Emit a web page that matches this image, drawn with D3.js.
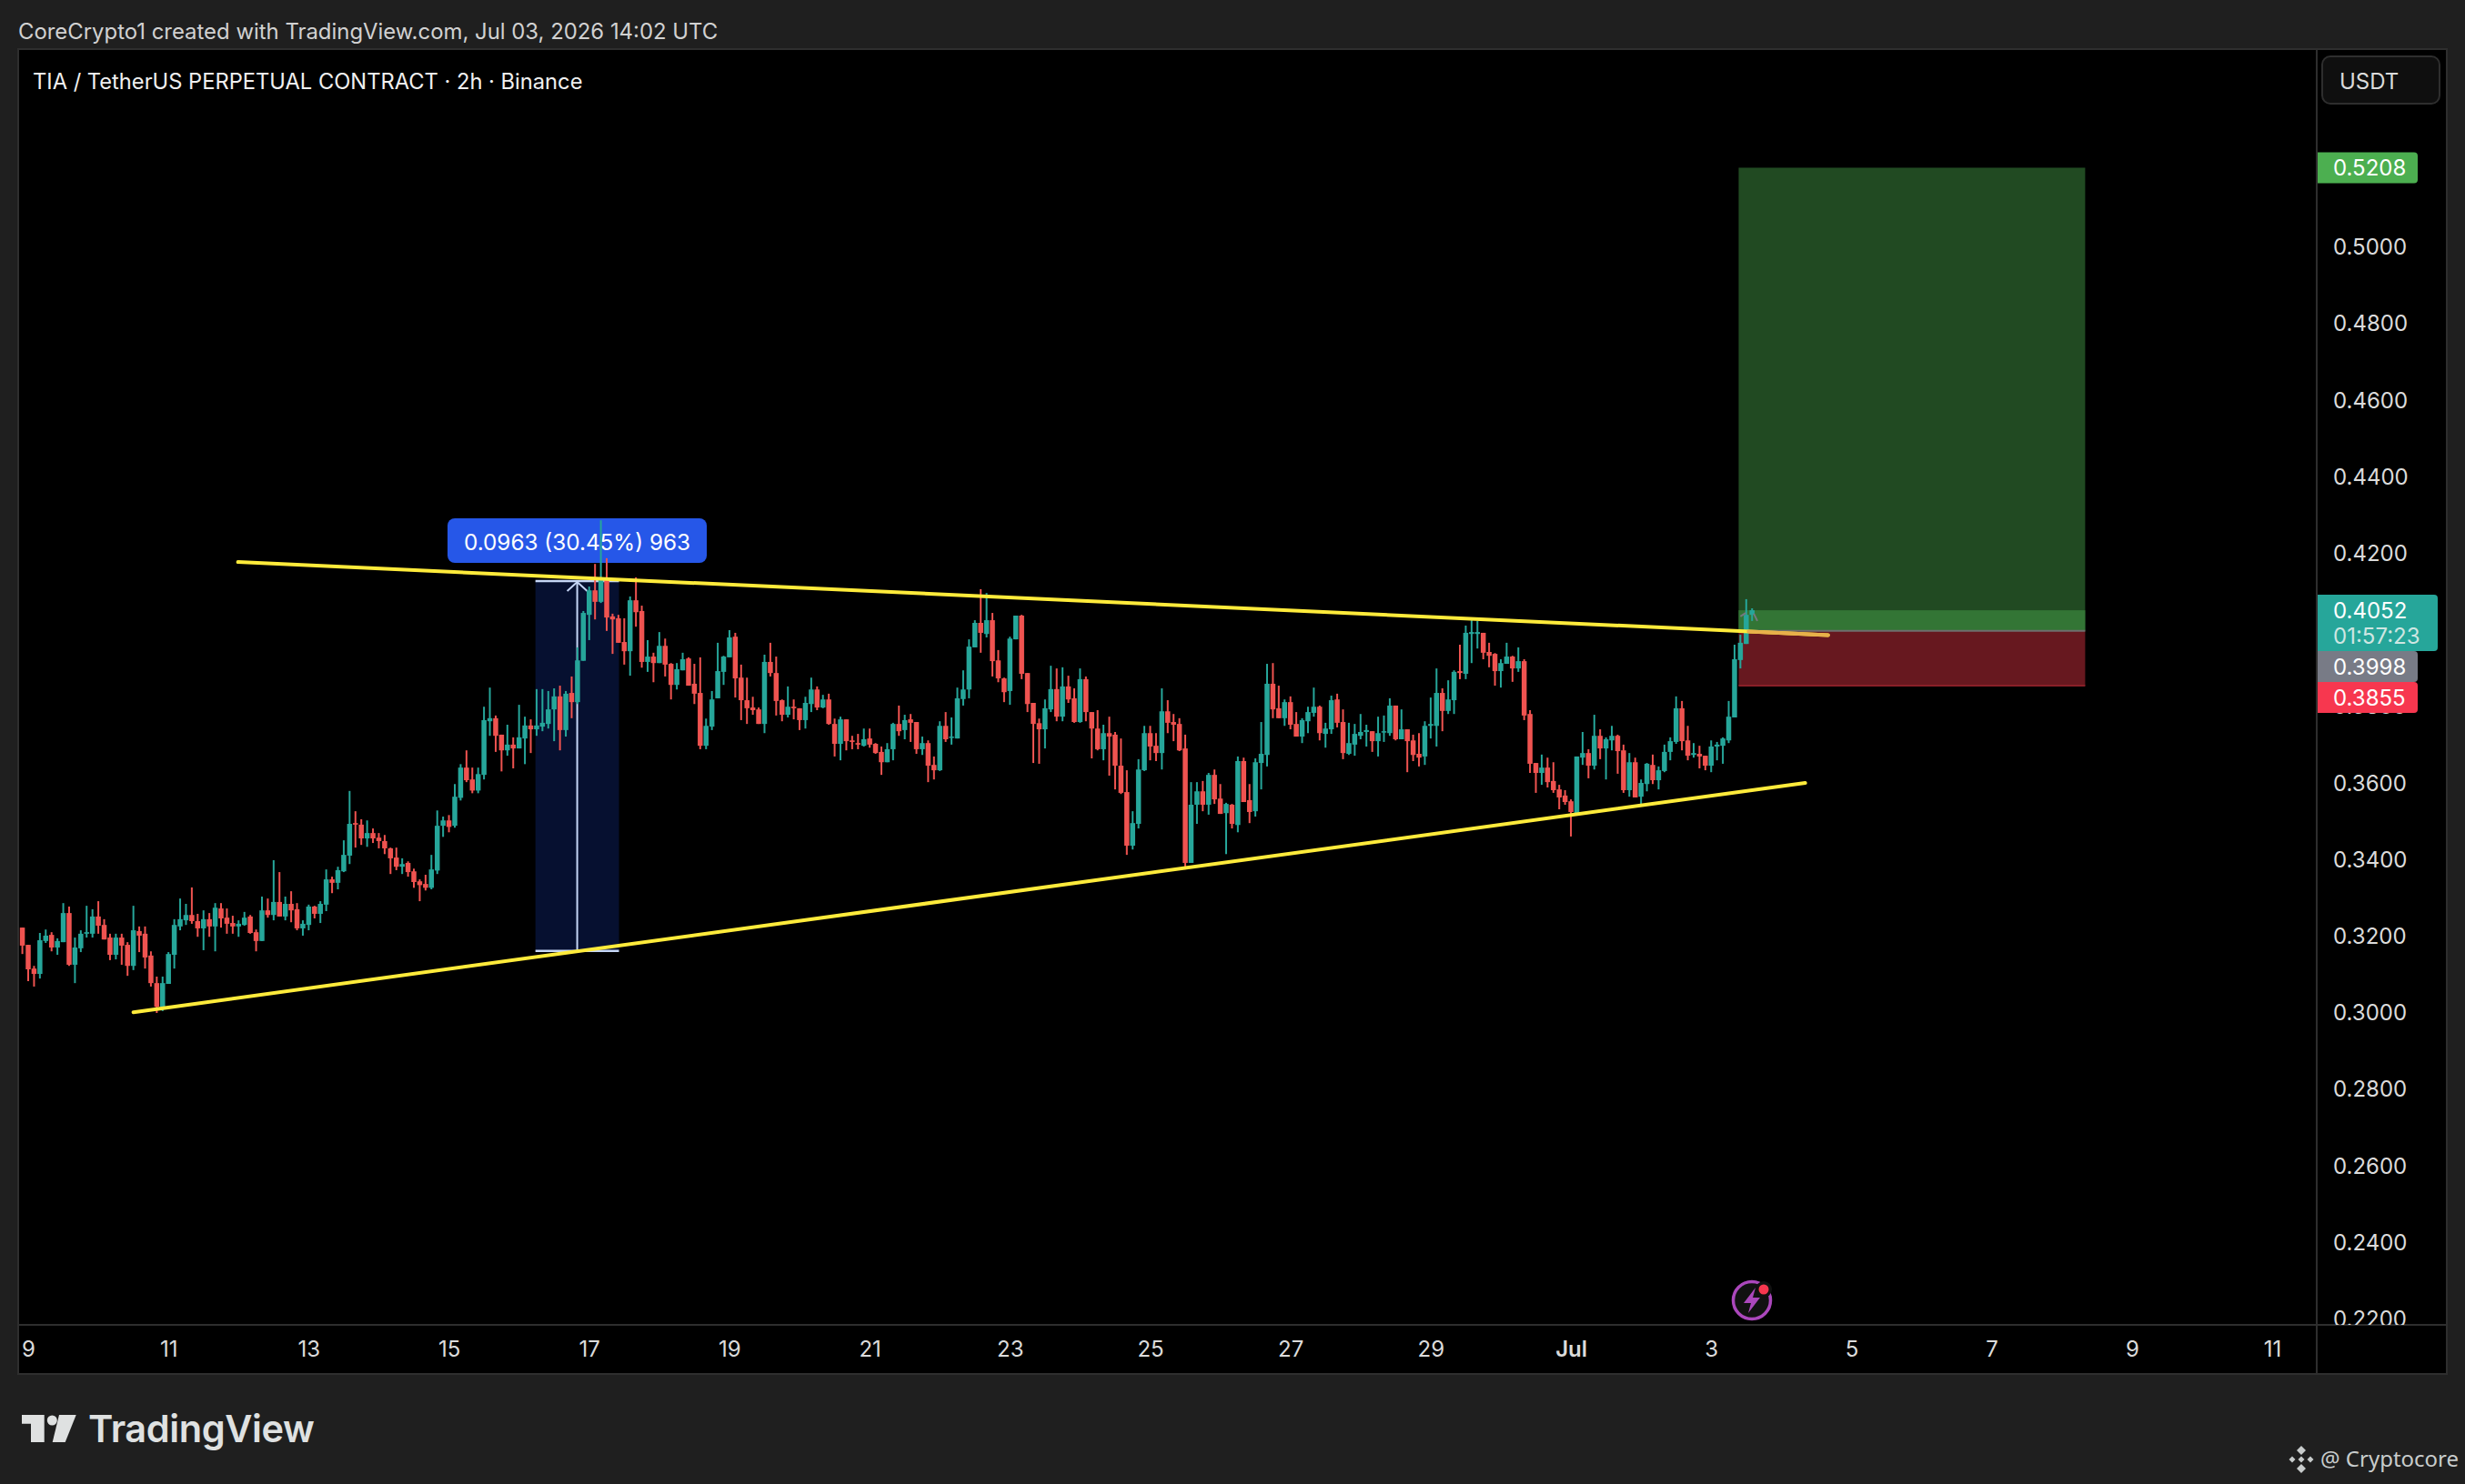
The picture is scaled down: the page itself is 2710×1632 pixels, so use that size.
<!DOCTYPE html>
<html>
<head>
<meta charset="utf-8">
<title>TIA / TetherUS</title>
<script src="https://cdn.jsdelivr.net/npm/d3@7"></script>
<style>
  html, body { margin: 0; padding: 0; background: #1f1f1f; }
  svg { display: block; font-family: Inter, "Noto Sans", sans-serif; }
  .tick-label { fill: #dbdbdb; font-size: 24px; }
</style>
</head>
<body>
<svg id="chart" width="2710" height="1632"></svg>
<script>
const opens = [
  3223,3178,3116,3102,3188,3204,3171,3185,3261,3126, 3169,3207,3207,3252,3230,3197,3152,3197,3178,3123,
  3214,3207,3150,3078,3016,3076,3152,3226,3242,3256, 3240,3221,3245,3226,3273,3249,3235,3226,3230,3252,
  3211,3188,3268,3256,3290,3252,3285,3271,3221,3230, 3278,3259,3283,3349,3340,3370,3411,3496,3492,3456,
  3470,3458,3449,3430,3406,3382,3392,3370,3344,3337, 3327,3372,3489,3503,3489,3562,3641,3610,3581,3622,
  3762,3770,3727,3686,3701,3691,3717,3751,3741,3748, 3755,3793,3827,3739,3836,3812,3920,4040,4104,4074,
  4133,4036,4031,3969,3945,4078,4050,3917,3931,3914, 3959,3912,3857,3895,3926,3860,3836,3698,3748,3822,
  3891,3929,3983,3876,3817,3798,3793,3755,3917,3888, 3817,3779,3800,3796,3765,3807,3845,3798,3819,3755,
  3703,3767,3712,3705,3698,3717,3703,3682,3655,3689, 3755,3739,3767,3760,3689,3705,3648,3634,3750,3720,
  3717,3820,3845,3955,4019,3990,4026,3921,3874,3841, 3976,4038,3888,3810,3757,3741,3793,3846,3774,3853,
  3822,3760,3872,3786,3743,3689,3731,3727,3646,3577, 3437,3494,3634,3731,3698,3679,3788,3760,3755,3691,
  3392,3544,3579,3544,3622,3560,3522,3544,3491,3658, 3556,3527,3653,3674,3860,3796,3770,3812,3755,3722,
  3762,3784,3800,3729,3741,3819,3760,3677,3701,3724, 3734,3736,3710,3733,3731,3803,3715,3741,3712,3677,
  3670,3750,3750,3836,3789,3817,3893,3886,3990,3990, 3993,3943,3938,3893,3912,3931,3900,3919,3781,3653,
  3627,3641,3606,3584,3568,3553,3522,3667,3679,3646, 3724,3691,3712,3724,3686,3582,3655,3565,3598,3648,
  3608,3632,3682,3708,3796,3712,3674,3677,3672,3646, 3696,3698,3712,3772,3922,3964,4040
];
const highs = [
  3223,3178,3123,3209,3218,3211,3195,3287,3278,3197, 3216,3280,3271,3292,3245,3207,3207,3207,3185,3280,
  3226,3226,3161,3095,3095,3159,3245,3299,3285,3328, 3259,3268,3261,3287,3287,3273,3254,3242,3264,3256,
  3218,3304,3299,3399,3368,3304,3318,3287,3242,3283, 3280,3292,3375,3356,3382,3451,3580,3527,3506,3503,
  3482,3470,3465,3432,3432,3404,3396,3377,3349,3361, 3413,3529,3513,3517,3598,3650,3686,3641,3641,3800,
  3850,3777,3727,3753,3720,3805,3774,3767,3846,3846, 3841,3848,3855,3841,3879,3955,4050,4114,4173,4287,
  4188,4043,4040,4031,4088,4138,4064,3974,3941,3995, 3978,3914,3914,3941,3929,3912,3929,3769,3841,3967,
  3933,4000,3993,3910,3876,3826,3798,3936,3967,3931, 3819,3853,3819,3796,3826,3876,3853,3831,3834,3769,
  3774,3767,3724,3729,3743,3743,3705,3696,3705,3758, 3803,3779,3781,3760,3722,3712,3670,3762,3786,3772,
  3850,3895,3976,4026,4107,4097,4045,3948,3876,3983, 4038,4040,3888,3810,3769,3819,3907,3900,3903,3881,
  3848,3900,3879,3786,3791,3753,3774,3734,3717,3634, 3527,3663,3750,3750,3731,3848,3817,3781,3770,3727,
  3603,3603,3606,3627,3636,3598,3549,3546,3670,3667, 3598,3665,3760,3912,3914,3855,3819,3827,3786,3770,
  3800,3850,3803,3758,3829,3834,3793,3758,3755,3781, 3753,3736,3774,3777,3822,3803,3793,3741,3727,3731,
  3762,3824,3900,3848,3869,3895,3962,4012,4032,4024, 3993,3967,3940,3924,3967,3933,3955,3924,3791,3653,
  3675,3667,3655,3596,3582,3558,3670,3734,3689,3779, 3741,3720,3750,3727,3701,3679,3667,3610,3653,3675,
  3644,3701,3720,3827,3815,3750,3705,3698,3672,3712, 3708,3720,3815,3962,3988,4081,4057
];
const lows = [
  3154,3083,3069,3090,3183,3161,3152,3185,3123,3078, 3159,3197,3197,3207,3192,3138,3140,3126,3097,3112,
  3159,3116,3069,3000,3005,3076,3116,3216,3230,3233, 3199,3164,3199,3161,3223,3207,3207,3199,3228,3207,
  3161,3188,3249,3242,3252,3242,3237,3216,3202,3216, 3247,3235,3266,3313,3323,3368,3389,3432,3439,3434,
  3444,3430,3415,3363,3373,3363,3356,3327,3292,3320, 3323,3363,3460,3472,3484,3555,3603,3574,3574,3610,
  3724,3682,3631,3672,3639,3691,3650,3679,3724,3736, 3743,3710,3686,3722,3770,3807,3920,3974,4028,4071,
  3998,3938,3967,3910,3881,4009,3902,3891,3864,3914, 3879,3819,3845,3895,3855,3807,3689,3689,3739,3822,
  3857,3929,3824,3765,3755,3779,3755,3731,3879,3777, 3762,3772,3767,3739,3743,3786,3791,3796,3753,3670,
  3660,3686,3689,3689,3696,3693,3677,3622,3655,3660, 3724,3715,3708,3677,3674,3603,3610,3632,3708,3701,
  3717,3803,3822,3955,3941,3981,3879,3864,3812,3805, 3976,3872,3786,3653,3651,3691,3786,3762,3762,3810,
  3758,3758,3762,3665,3686,3660,3620,3584,3572,3413, 3427,3482,3632,3660,3658,3636,3731,3710,3684,3375,
  3392,3494,3527,3518,3546,3520,3415,3482,3472,3551, 3496,3513,3584,3644,3770,3770,3750,3741,3722,3705,
  3731,3774,3712,3693,3729,3746,3663,3674,3672,3715, 3696,3682,3670,3708,3724,3712,3715,3629,3658,3644,
  3648,3717,3696,3736,3781,3781,3872,3872,3914,3952, 3924,3903,3855,3850,3912,3865,3891,3765,3627,3575,
  3596,3589,3575,3532,3544,3461,3520,3648,3613,3636, 3663,3610,3686,3625,3575,3565,3563,3541,3579,3598,
  3584,3629,3660,3703,3686,3660,3667,3639,3634,3629, 3660,3651,3705,3772,3900,3964,4024
];
const closes = [
  3176,3114,3102,3190,3202,3171,3188,3261,3126,3171, 3207,3211,3252,3228,3192,3152,3197,3176,3123,3216,
  3202,3145,3078,3016,3078,3154,3230,3245,3256,3240, 3221,3245,3226,3275,3247,3233,3226,3233,3249,3209,
  3188,3268,3256,3290,3252,3285,3268,3221,3233,3278, 3259,3285,3349,3340,3373,3413,3494,3492,3456,3470,
  3456,3449,3430,3404,3382,3389,3368,3342,3334,3327, 3375,3489,3503,3486,3565,3641,3608,3581,3624,3765,
  3770,3724,3686,3701,3691,3720,3751,3741,3751,3758, 3793,3827,3739,3834,3812,3921,4045,4104,4074,4131,
  4033,4028,3967,3945,4078,4047,3917,3931,3914,3959, 3910,3857,3898,3924,3855,3834,3698,3750,3819,3893,
  3931,3981,3874,3817,3796,3791,3755,3917,3888,3815, 3779,3800,3796,3765,3810,3845,3798,3819,3755,3703,
  3767,3710,3708,3701,3715,3701,3679,3655,3689,3755, 3736,3765,3758,3689,3705,3646,3634,3750,3715,3722,
  3822,3845,3957,4019,3993,4026,3919,3874,3838,3978, 4038,3886,3807,3755,3741,3796,3846,3774,3853,3819,
  3760,3872,3786,3743,3689,3731,3722,3646,3575,3437, 3496,3636,3731,3696,3679,3788,3758,3753,3686,3392,
  3544,3579,3544,3622,3558,3520,3546,3494,3658,3551, 3525,3655,3677,3860,3793,3770,3812,3753,3722,3765,
  3786,3800,3731,3743,3817,3758,3679,3705,3729,3734, 3739,3710,3731,3736,3803,3715,3741,3710,3674,3667,
  3750,3755,3836,3789,3819,3891,3888,3993,3995,3995, 3941,3933,3893,3914,3931,3900,3919,3777,3651,3627,
  3641,3603,3582,3563,3551,3525,3670,3679,3646,3724, 3691,3715,3724,3684,3582,3655,3563,3601,3651,3608,
  3634,3682,3710,3796,3710,3672,3679,3670,3646,3696, 3701,3717,3774,3924,3967,4040,4052
];

// 0.40 and 0.52 sit behind the price labels in the picture, so they are left out
const priceTicks = [0.22,0.24,0.26,0.28,0.30,0.32,0.34,0.36,0.38,0.42,0.44,0.46,0.48,0.50];
const dayTicks = [[5,9],[5,11],[5,13],[5,15],[5,17],[5,19],[5,21],[5,23],[5,25],[5,27],[5,29],[6,1],[6,3],[6,5],[6,7],[6,9],[6,11]];
const dayLabels = ['9','11','13','15','17','19','21','23','25','27','29','Jul','3','5','7','9','11'];

// trend lines: [bar number, price]
const upperLine = [[36.9, 0.4178], [309.0, 0.3987]];
const lowerLine = [[19.0, 0.3002], [305.1, 0.3601]];

// long position tool and price range tool
const positionBars = [293.7, 353];
const targetPrice = 0.5208, entryPrice = 0.3998, stopPrice = 0.3855, lastPrice = 0.4052;
const measureBars = [87.8, 102.1];
const measurePrices = [0.4128, 0.3162];

const barMs = 2 * 3600 * 1000;
const firstBar = Date.UTC(2026, 5, 8, 22);
const barTime = i => new Date(firstBar + i * barMs);
const bars = d3.range(opens.length).map(i => ({
  i, open: opens[i] / 10000, high: highs[i] / 10000, low: lows[i] / 10000, close: closes[i] / 10000
}));

const x = d3.scaleUtc()
  .domain([new Date(Date.UTC(2026, 5, 9)), new Date(Date.UTC(2026, 6, 11))])
  .range([31, 2498]);
const y = d3.scaleLinear().domain([0.3, 0.5]).range([1114, 272]);
const xBar = i => x(barTime(i));

const GREEN = '#26a69a', RED = '#ef5350', BORDER = '#2e2e2e';

const svg = d3.select('#chart');
const defs = svg.append('defs');
defs.append('clipPath').attr('id', 'pane').append('rect')
  .attr('x', 21).attr('y', 55).attr('width', 2526).attr('height', 1402);
defs.append('clipPath').attr('id', 'scale').append('rect')
  .attr('x', 2548).attr('y', 55).attr('width', 142).attr('height', 1402);

svg.append('rect').attr('width', 2710).attr('height', 1632).attr('fill', '#1f1f1f');

// black panel with its borders
svg.append('rect').attr('x', 20).attr('y', 54).attr('width', 2670).attr('height', 1457)
  .attr('fill', '#000').attr('stroke', BORDER).attr('stroke-width', 2);
svg.append('line').attr('x1', 2547).attr('x2', 2547).attr('y1', 54).attr('y2', 1511)
  .attr('stroke', BORDER).attr('stroke-width', 2);
svg.append('line').attr('x1', 20).attr('x2', 2690).attr('y1', 1457).attr('y2', 1457)
  .attr('stroke', BORDER).attr('stroke-width', 2);

svg.append('text').attr('x', 20).attr('y', 35).attr('dy', '0.35em')
  .attr('fill', '#d1d1d1').attr('font-size', 23.9)
  .text('CoreCrypto1 created with TradingView.com, Jul 03, 2026 14:02 UTC');
svg.append('text').attr('x', 36).attr('y', 90).attr('dy', '0.35em')
  .attr('fill', '#f0f0f0').attr('font-size', 23.7)
  .text('TIA / TetherUS PERPETUAL CONTRACT · 2h · Binance');

const pane = svg.append('g').attr('clip-path', 'url(#pane)');

// price range tool
pane.append('rect')
  .attr('x', xBar(measureBars[0])).attr('width', xBar(measureBars[1]) - xBar(measureBars[0]))
  .attr('y', y(measurePrices[0])).attr('height', y(measurePrices[1]) - y(measurePrices[0]))
  .attr('fill', '#061030');
measurePrices.forEach(p => {
  pane.append('line')
    .attr('x1', xBar(measureBars[0])).attr('x2', xBar(measureBars[1]))
    .attr('y1', y(p)).attr('y2', y(p))
    .attr('stroke', '#c5d6f5').attr('stroke-width', 2.5);
});
const midBar = xBar((measureBars[0] + measureBars[1]) / 2);
pane.append('line').attr('x1', midBar).attr('x2', midBar)
  .attr('y1', y(measurePrices[0])).attr('y2', y(measurePrices[1]))
  .attr('stroke', '#c5d6f5').attr('stroke-width', 2);
pane.append('path')
  .attr('d', `M${midBar - 11},${y(measurePrices[0]) + 11}L${midBar},${y(measurePrices[0]) + 1}L${midBar + 11},${y(measurePrices[0]) + 11}`)
  .attr('fill', 'none').attr('stroke', '#c5d6f5').attr('stroke-width', 2);

pane.append('rect').attr('x', 492).attr('y', 570).attr('width', 285).attr('height', 49).attr('rx', 8)
  .attr('fill', '#2657e8');
pane.append('text').attr('x', 634.5).attr('y', 596).attr('dy', '0.35em').attr('text-anchor', 'middle')
  .attr('fill', '#fff').attr('font-size', 24.3).text('0.0963 (30.45%) 963');

// long position tool
const boxX = xBar(positionBars[0]), boxW = xBar(positionBars[1]) - boxX;
pane.append('rect').attr('x', boxX).attr('width', boxW)
  .attr('y', y(targetPrice)).attr('height', y(entryPrice) - y(targetPrice)).attr('fill', '#214a22');
pane.append('rect').attr('x', boxX).attr('width', boxW)
  .attr('y', y(lastPrice)).attr('height', y(entryPrice) - y(lastPrice)).attr('fill', '#337535');
pane.append('rect').attr('x', boxX).attr('width', boxW)
  .attr('y', y(entryPrice)).attr('height', y(stopPrice) - y(entryPrice)).attr('fill', '#67181f');
pane.append('line').attr('x1', boxX).attr('x2', boxX + boxW)
  .attr('y1', y(entryPrice)).attr('y2', y(entryPrice)).attr('stroke', '#6e6e6e').attr('stroke-width', 2);
pane.append('line').attr('x1', boxX).attr('x2', boxX + boxW)
  .attr('y1', y(stopPrice)).attr('y2', y(stopPrice)).attr('stroke', '#8a2028').attr('stroke-width', 2);

// candles
const candles = pane.append('g').selectAll('g')
  .data(bars)
  .join('g')
  .attr('fill', d => d.close >= d.open ? GREEN : RED)
  .attr('stroke', d => d.close >= d.open ? GREEN : RED);
candles.append('line')
  .attr('x1', d => xBar(d.i)).attr('x2', d => xBar(d.i))
  .attr('y1', d => y(d.high)).attr('y2', d => y(d.low))
  .attr('stroke-width', 2);
candles.append('rect')
  .attr('x', d => xBar(d.i) - 2.75).attr('width', 5.5)
  .attr('y', d => y(Math.max(d.open, d.close)))
  .attr('height', d => Math.max(1.5, Math.abs(y(d.open) - y(d.close))))
  .attr('stroke', 'none');

// small grey pointer of the position tool around the last bar
pane.append('path')
  .attr('d', `M${xBar(294)},${y(0.4036)}L${xBar(294.9)},${y(0.4045)}M${xBar(296.3)},${y(0.4043)}L${xBar(296.9)},${y(0.4024)}`)
  .attr('fill', 'none').attr('stroke', '#77787f').attr('stroke-width', 2);

// trend lines
const trend = d3.line().x(d => xBar(d[0])).y(d => y(d[1]));
[upperLine, lowerLine].forEach(points => {
  pane.append('path').attr('d', trend(points))
    .attr('fill', 'none').attr('stroke', '#ffeb3b').attr('stroke-width', 4).attr('stroke-linecap', 'round');
});
// the part of the upper line over the red box looks orange
const priceAt = b => upperLine[0][1] + (b - upperLine[0][0]) * (upperLine[1][1] - upperLine[0][1]) / (upperLine[1][0] - upperLine[0][0]);
pane.append('path').attr('d', trend([[positionBars[0] + 1.7, priceAt(positionBars[0] + 1.7)], upperLine[1]]))
  .attr('fill', 'none').attr('stroke', '#e8b04a').attr('stroke-width', 4).attr('stroke-linecap', 'round');

// lightning icon
const icon = pane.append('g').attr('transform', 'translate(1926,1430)');
icon.append('circle').attr('r', 20.5).attr('fill', '#111').attr('stroke', '#ab47bc').attr('stroke-width', 3.5);
icon.append('path').attr('d', 'M4,-14L-9,3H-1L-4,14L9,-3H1Z').attr('fill', '#ab47bc');
icon.append('circle').attr('cx', 13).attr('cy', -12).attr('r', 9).attr('fill', '#111');
icon.append('circle').attr('cx', 13).attr('cy', -12).attr('r', 5.5).attr('fill', '#f7374f');

// price scale
const scaleG = svg.append('g').attr('clip-path', 'url(#scale)');
const yAxis = d3.axisRight(y).tickValues(priceTicks).tickSize(0).tickPadding(0).tickFormat(d3.format('.4f'));
scaleG.append('g').attr('transform', 'translate(2565,0)').call(yAxis)
  .call(g => g.select('.domain').remove())
  .call(g => g.selectAll('text').attr('class', 'tick-label').attr('fill', null).style('font-family', 'Inter'));

const addPriceLabel = (top, h, w, color, text) => {
  scaleG.append('rect').attr('x', 2530).attr('y', top).attr('width', w + 18).attr('height', h).attr('rx', 4).attr('fill', color);
  scaleG.append('text').attr('x', 2565).attr('y', top + 17).attr('dy', '0.35em')
    .attr('fill', '#fff').attr('font-size', 24).text(text);
};
addPriceLabel(y(targetPrice) - 17, 34, 110, '#4caf50', targetPrice.toFixed(4));
addPriceLabel(y(lastPrice) - 17, 62, 132, GREEN, lastPrice.toFixed(4));
scaleG.append('text').attr('x', 2565).attr('y', y(lastPrice) + 28).attr('dy', '0.35em')
  .attr('fill', '#cfe6e2').attr('font-size', 24).text('01:57:23');
addPriceLabel(y(lastPrice) + 45, 34, 110, '#787b86', entryPrice.toFixed(4));
addPriceLabel(y(lastPrice) + 79, 34, 110, '#f7374f', stopPrice.toFixed(4));

svg.append('rect').attr('x', 2553).attr('y', 62).attr('width', 129).attr('height', 52).attr('rx', 9)
  .attr('fill', '#0f0f0f').attr('stroke', BORDER).attr('stroke-width', 2);
svg.append('text').attr('x', 2572).attr('y', 89.5).attr('dy', '0.35em')
  .attr('fill', '#dbdbdb').attr('font-size', 24).text('USDT');

// time scale
const xAxis = d3.axisBottom(x)
  .tickValues(dayTicks.map(d => new Date(Date.UTC(2026, d[0], d[1]))))
  .tickFormat((d, i) => dayLabels[i])
  .tickSize(0).tickPadding(0);
svg.append('g').attr('transform', 'translate(0,1475)').call(xAxis)
  .call(g => g.select('.domain').remove())
  .call(g => g.selectAll('text')
    .attr('class', 'tick-label').attr('fill', null).style('font-family', 'Inter')
    .style('font-weight', (d, i) => dayLabels[i] === 'Jul' ? 600 : 400));

// TradingView logo
const logo = svg.append('g').attr('fill', '#dfe1e1');
logo.append('path').attr('d', 'M24,1556H48.7V1586H34V1565.7H24Z');
logo.append('circle').attr('cx', 57.3).attr('cy', 1562).attr('r', 5.5);
logo.append('path').attr('d', 'M65,1556H83.7L71.7,1586H57.7Z');
logo.append('text').attr('x', 97).attr('y', 1586).attr('font-size', 41.5).attr('font-weight', 600)
  .attr('letter-spacing', -0.4).attr('font-family', 'Inter').text('TradingView');

// watermark
const mark = svg.append('g').attr('fill', '#c8cccc').attr('transform', 'translate(2530,1605)');
[[0, -10, 5], [-10, 0, 3.5], [10, 0, 3.5], [0, 10, 5], [0, 0, 3.5]].forEach(d => {
  mark.append('path').attr('d', `M${d[0]},${d[1] - d[2]}L${d[0] + d[2]},${d[1]}L${d[0]},${d[1] + d[2]}L${d[0] - d[2]},${d[1]}Z`);
});
svg.append('text').attr('x', 2551).attr('y', 1605).attr('dy', '0.35em').attr('font-size', 24)
  .attr('fill', '#c8cccc').attr('font-family', '"Noto Sans"').text('@ Cryptocore');
</script>
</body>
</html>
